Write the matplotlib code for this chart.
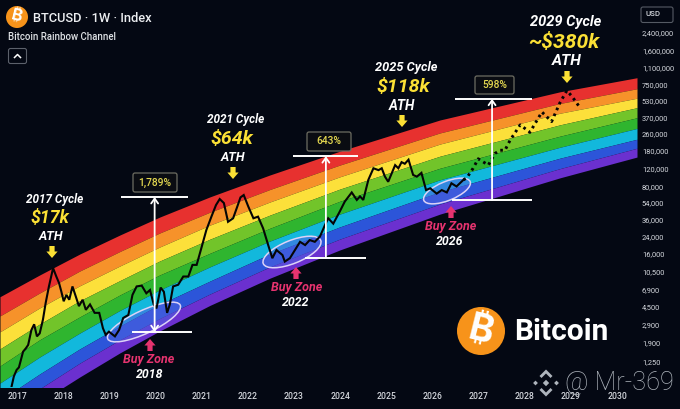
import numpy as np
import matplotlib
matplotlib.use('Agg')
import matplotlib.pyplot as plt
from matplotlib.patches import Circle, Ellipse, FancyBboxPatch, Polygon
from matplotlib.transforms import Affine2D

W, H = 680, 409
BG = '#040813'

# price axis, the labels of the reference are not quite log spaced
tick_prices = [2400000, 1600000, 1100000, 750000, 530000, 370000, 260000, 180000, 120000, 80000,
               54000, 36000, 24000, 16000, 10500, 6900, 4500, 2900, 1900, 1250]
tick_rows = [33, 51, 68, 84.5, 101, 118, 134, 151, 169, 187, 203, 220, 237, 254, 272, 290, 307, 325, 343, 362]
years = list(range(2017, 2031))

# rainbow edges, top to bottom
band_years = [2016.63, 2017.49, 2018.36, 2019.23, 2020.09, 2021.18, 2022.48, 2023.99, 2026.16, 2028.76, 2030.43]
edge_red = [5830, 9800, 16000, 25200, 38600, 62800, 105000, 179000, 354000, 643000, 878000]
edge_orange = [3620, 6400, 10750, 17000, 26400, 43400, 75300, 131000, 266000, 503000, 686000]
edge_yellow = [2470, 4400, 7620, 12100, 18900, 31900, 55400, 100500, 209000, 409000, 562000]
edge_lime = [1670, 2970, 5270, 8600, 13580, 22800, 40500, 75900, 160000, 318000, 460000]
edge_green = [1145, 2050, 3540, 6100, 9800, 16300, 29600, 56300, 122000, 248000, 372000]
edge_cyan = [785, 1395, 2400, 4140, 6900, 11850, 21800, 41400, 94000, 195000, 294000]
edge_blue = [529, 960, 1670, 2830, 4800, 8500, 16000, 30500, 70900, 153000, 232000]
edge_purple = [370, 690, 1220, 2050, 3400, 6240, 11850, 22800, 52700, 121000, 191000]
edge_bottom = [265, 506, 899, 1530, 2520, 4690, 9100, 17600, 41400, 98300, 157000]
band_colors = ['#e7312f', '#f6922a', '#fce03a', '#72c42a', '#2fb52f', '#12b8dc', '#2c55d9', '#6b30cf']

btc_years = [2016.88, 2016.93, 2016.99, 2017.04, 2017.13, 2017.19, 2017.24, 2017.31, 2017.37, 2017.43,
             2017.49, 2017.56, 2017.62, 2017.69, 2017.78, 2017.85, 2017.91, 2017.96, 2018.01, 2018.07,
             2018.13, 2018.20, 2018.27, 2018.34, 2018.42, 2018.49, 2018.58, 2018.68, 2018.78, 2018.86,
             2018.92, 2018.99, 2019.12, 2019.21, 2019.30, 2019.41, 2019.50, 2019.59, 2019.70, 2019.80,
             2019.88, 2019.96, 2020.02, 2020.11, 2020.18, 2020.25, 2020.31, 2020.38, 2020.49, 2020.60,
             2020.71, 2020.80, 2020.89, 2021.00, 2021.10, 2021.21, 2021.31, 2021.39, 2021.48, 2021.57,
             2021.68, 2021.77, 2021.84, 2021.91, 2022.01, 2022.12, 2022.22, 2022.33, 2022.44, 2022.53,
             2022.62, 2022.75, 2022.80, 2022.91, 2023.02, 2023.13, 2023.24, 2023.34, 2023.45, 2023.56,
             2023.67, 2023.74, 2023.85, 2023.99, 2024.10, 2024.25, 2024.36, 2024.43, 2024.50, 2024.61,
             2024.72, 2024.83, 2024.90, 2024.97, 2025.04, 2025.19, 2025.26, 2025.33, 2025.40, 2025.48,
             2025.58, 2025.66, 2025.76, 2025.86, 2025.95, 2026.09, 2026.20, 2026.31, 2026.41, 2026.52, 2026.67]
btc_prices = [725, 910, 1050, 1110, 1570, 1690, 1820, 2580, 2950, 2220,
              2380, 3300, 5000, 7500, 11500, 9450, 8100, 6600, 5200, 6100,
              5400, 7500, 5900, 4600, 5400, 4200, 4800, 3900, 3900, 2690,
              2300, 2480, 2220, 2580, 3450, 3700, 6100, 7500, 7650, 6350,
              6900, 4800, 4350, 7300, 6600, 3900, 4800, 7500, 7800, 9450,
              9450, 12400, 12400, 19000, 28300, 39000, 51500, 59500, 54000, 34500,
              37500, 49500, 62000, 65700, 49500, 37500, 39000, 29500, 19800, 14500,
              17600, 15600, 13400, 14500, 17600, 21400, 19800, 22300, 21400, 24200,
              31900, 37500, 33000, 44000, 56000, 70000, 58200, 63500, 58200, 94000,
              122000, 117000, 122000, 101000, 90000, 131000, 122000, 140000, 135000, 148000,
              105000, 101000, 110000, 74200, 77500, 68000, 74200, 70000, 87000, 81000, 94000]

proj_years = [2026.67, 2026.74, 2026.88, 2026.99, 2027.21, 2027.35, 2027.46, 2027.57, 2027.68, 2027.90,
              2028.11, 2028.37, 2028.58, 2028.76, 2028.91, 2029.02, 2029.18]
proj_prices = [94000, 98000, 122000, 151000, 131000, 170000, 183000, 183000, 227000, 318000,
               270000, 420000, 342000, 510000, 660000, 585000, 470000]

# measured moves: year of the arrow, low, high
move_years = [2019.98, 2023.69, 2027.29]
move_lows = [2460, 14600, 58200]
move_highs = [62500, 160000, 555000]
move_top_spans = [(2019.25, 2020.70), (2022.98, 2024.38), (2026.49, 2028.16)]
move_low_spans = [(2019.48, 2020.78), (2023.24, 2024.56), (2026.42, 2028.16)]
move_labels = ['1,789%', '643%', '598%']

scale_rows = np.array([0] + tick_rows + [387, 460])[::-1]
scale_prices = np.array([5130000] + tick_prices + [720, 134])[::-1]


def to_pos(v):
    return np.interp(np.log(np.maximum(v, 1e-6)), np.log(scale_prices), -scale_rows.astype(float))


def from_pos(p):
    return np.exp(np.interp(p, -scale_rows.astype(float), np.log(scale_prices)))


plt.rcParams['font.family'] = ['Roboto', 'DejaVu Sans']

fig = plt.figure(figsize=(W / 100, H / 100), dpi=100, facecolor=BG)
ax = fig.add_axes([0, (H - 387) / H, 637 / W, 387 / H], facecolor=BG)
ax.set_yscale('function', functions=(to_pos, from_pos))
ax.set_xlim(2016.63, 2030.43)
ax.set_ylim(720, 5130000)

# everything that is not on the price scale is placed in picture pixels
px = Affine2D().scale(1 / W, -1 / H).translate(0, 1) + fig.transFigure

edges = [edge_red, edge_orange, edge_yellow, edge_lime, edge_green, edge_cyan, edge_blue, edge_purple, edge_bottom]
for i in range(len(band_colors)):
    ax.fill_between(band_years, edges[i + 1], edges[i], color=band_colors[i], linewidth=0, zorder=1)

ax.set_xticks(years)
ax.set_xticklabels([str(y) for y in years], fontsize=6.2, color='#d5d8de', fontweight='medium')
ax.set_yticks(tick_prices)
ax.set_yticklabels([f'{p:,}' for p in tick_prices], fontsize=5.4, color='#d5d8de')
ax.minorticks_off()
ax.yaxis.tick_right()
ax.tick_params(axis='x', length=0, pad=3.5)
ax.tick_params(axis='y', length=0, pad=3.5)
for s in ax.spines.values():
    s.set_visible(False)

# buy zones sit under the price line
zones = [(144, 322, 80, 23, -25), (292, 252, 62, 23, -22), (447, 191, 50, 19, -22)]
for cx, cy, w, h, ang in zones:
    fig_patch = Ellipse((cx, cy), w, h, angle=ang, transform=px, facecolor=(0.30, 0.38, 0.88, 0.55),
                        edgecolor='#dcd2f7', linewidth=1.1, zorder=3)
    ax.add_patch(fig_patch)
    fig_patch.set_clip_on(False)

ax.plot(btc_years, btc_prices, color='#050505', linewidth=1.5, zorder=4, solid_joinstyle='miter')
ax.plot(proj_years, proj_prices, color='#050505', linewidth=2.1, linestyle=(0, (0.9, 1.3)), zorder=4)

for i in range(3):
    ax.hlines(move_highs[i], move_top_spans[i][0], move_top_spans[i][1], color='white', linewidth=1.4, zorder=5, clip_on=False)
    ax.hlines(move_lows[i], move_low_spans[i][0], move_low_spans[i][1], color='white', linewidth=1.4, zorder=5, clip_on=False)
    style = '<->' if i == 0 else '->'
    ax.annotate('', xy=(move_years[i], move_highs[i]), xytext=(move_years[i], move_lows[i]),
                arrowprops=dict(arrowstyle=style + ',head_length=0.35,head_width=0.25', color='white', lw=1.3,
                                shrinkA=0, shrinkB=0), zorder=5)


def put(x, y, s, size, color='white', weight='bold', style='italic', ha='center'):
    fig.text(x / W, 1 - y / H, s, fontsize=size, color=color, fontweight=weight, fontstyle=style,
             ha=ha, va='center', zorder=10)


def block_arrow(x, y, color, up=False):
    sign = -1 if up else 1
    pts = [(-2.6, -6), (2.6, -6), (2.6, -0.5), (5.6, -0.5), (0, 6), (-5.6, -0.5), (-2.6, -0.5)]
    pts = [(x + a, y + sign * b) for a, b in pts]
    fig.add_artist(Polygon(pts, closed=True, transform=px, facecolor=color, edgecolor='none', zorder=10))


def btc_logo(x, y, r, size):
    fig.add_artist(Circle((x, y), r, transform=px, facecolor='#f7931a', edgecolor='none', zorder=10))
    fig.text(x / W, 1 - y / H, '\u20bf', fontsize=size, color='white',
             family=['Inter', 'Noto Sans', 'Open Sans', 'Lato', 'Liberation Sans', 'Roboto', 'DejaVu Sans'],
             fontweight='bold', rotation=-14, ha='center', va='center', zorder=11)


YELLOW = '#fbe035'
PINK = '#e6336f'

calls = [(55, 199, 50, 218, 51, 236, 52, 252, '2017 Cycle', '$17k', 8.5, 12.8),
         (236, 120, 232, 139, 233, 157, 233, 173, '2021 Cycle', '$64k', 8.5, 14.0),
         (406, 68, 403, 87, 402, 106, 402, 121, '2025 Cycle', '$118k', 9.2, 14.0),
         (566, 22, 564, 42, 567, 61, 567, 77, '2029 Cycle', '~$380k', 10.5, 15.2)]
for x1, y1, x2, y2, x3, y3, x4, y4, cycle, ath, s1, s2 in calls:
    put(x1, y1, cycle, s1)
    put(x2, y2, ath, s2, color=YELLOW)
    put(x3, y3, 'ATH', s1 + 0.6)
    block_arrow(x4, y4, YELLOW)

buys = [(149, 360, 150, 375, 150, 345, '2018'), (297, 288, 296, 303, 296, 273, '2022'), (451, 227, 450, 242, 451, 212, '2026')]
for x1, y1, x2, y2, x3, y3, yr in buys:
    put(x1, y1, 'Buy Zone', 9.0, color=PINK)
    put(x2, y2, yr, 8.8)
    block_arrow(x3, y3, PINK, up=True)

boxes = [(133, 173, 44, 19), (307, 132, 44, 19), (475, 76, 39, 18)]
for (bx, by, bw, bh), lab in zip(boxes, move_labels):
    fig.add_artist(FancyBboxPatch((bx, by), bw, bh, boxstyle='round,pad=0,rounding_size=2', transform=px,
                                  facecolor='#0a0c12', edgecolor='#6d6d62', linewidth=0.9, zorder=9))
    put(bx + bw / 2, by + bh / 2, lab, 7.4, color='#e4d850', weight='medium', style='normal')

# header
btc_logo(17, 17, 11, 12)
put(33, 18, 'BTCUSD \u00b7 1W \u00b7 Index', 9.3, color='#eceef1', weight='medium', style='normal', ha='left')
put(8, 37, 'Bitcoin Rainbow Channel', 6.9, color='#dfe2e6', weight='medium', style='normal', ha='left')
fig.add_artist(FancyBboxPatch((8.5, 48.5), 18, 15, boxstyle='round,pad=0,rounding_size=2', transform=px,
                              facecolor=BG, edgecolor='#5c616b', linewidth=0.8))
fig.add_artist(plt.Line2D([14.5, 17.5, 20.5], [57.5, 54.5, 57.5], transform=px, color='white', linewidth=1.1))

# USD box
fig.add_artist(FancyBboxPatch((641, 7), 32, 15.5, boxstyle='round,pad=0,rounding_size=2', transform=px,
                              facecolor=BG, edgecolor='#555a64', linewidth=0.8))
put(645, 14.5, 'USD', 5.6, color='#d5d8de', weight='medium', style='normal', ha='left')

# big logo
btc_logo(481, 331, 24, 27)
put(514, 332, 'Bitcoin', 21.5, weight='bold', style='normal', ha='left')

# watermark
WM = '#aeb4bc'
cx, cy = 546, 383
for dx, dy, r in [(0, 0, 3.2), (-10.5, 0, 2.4), (10.5, 0, 2.4)]:
    fig.add_artist(Polygon([(cx + dx - r, cy + dy), (cx + dx, cy + dy - r), (cx + dx + r, cy + dy), (cx + dx, cy + dy + r)],
                           transform=px, facecolor=WM, edgecolor='none', zorder=12))
for sign in (-1, 1):
    fig.add_artist(Polygon([(cx - 6.5, cy + sign * 7), (cx, cy + sign * 13.5), (cx + 6.5, cy + sign * 7),
                            (cx + 4.5, cy + sign * 5), (cx, cy + sign * 9.5), (cx - 4.5, cy + sign * 5)],
                           transform=px, facecolor=WM, edgecolor='none', zorder=12))
put(565, 383, '@ Mr-369', 18.2, color=WM, weight='light', style='normal', ha='left')

fig.savefig('out.png', dpi=100, facecolor=BG)
